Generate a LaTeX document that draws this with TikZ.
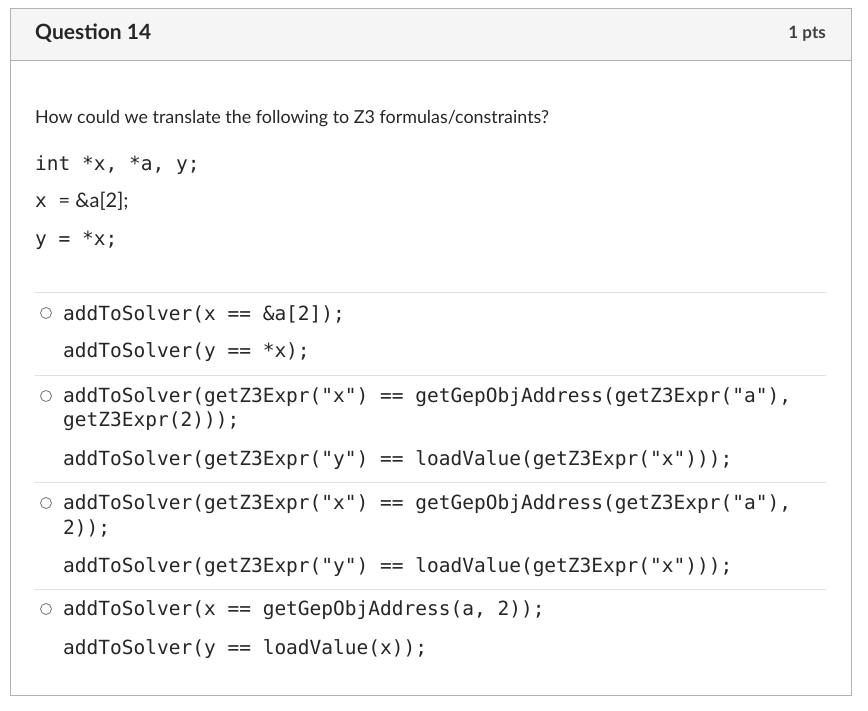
\documentclass[tikz,border=0pt]{standalone}
\usepackage{fontspec}
\setmainfont{Lato}
\newfontfamily\codef{DejaVu Sans Mono}
\begin{document}
\begin{tikzpicture}[x=1pt,y=-1pt,
  code/.style={anchor=west,inner sep=0pt,font=\codef\fontsize{19.5}{22}\selectfont,text=black!85},
  sep/.style={draw=black!12,line width=0.8pt},
  radio/.style={circle,draw=black!55,line width=0.8pt,minimum size=11pt,inner sep=0pt}]
\useasboundingbox (0,0) rectangle (868,711);
\fill[white] (0,0) rectangle (868,711);
\fill[black!4] (10,8) rectangle (851,60);
\draw[black!30,line width=0.8pt] (10,60) -- (851,60);
\draw[black!30,line width=0.8pt] (10,8) rectangle (851,695);
\node[anchor=west,inner sep=0pt,font=\bfseries\fontsize{21}{24}\selectfont,text=black!85] (title) at (35,33) {Question 14};
\node[anchor=east,inner sep=0pt,font=\bfseries\fontsize{17}{20}\selectfont,text=black!75] (pts) at (826,34) {1 pts};
\node[anchor=west,inner sep=0pt,font=\fontsize{17.9}{20}\selectfont,text=black!85] (q) at (35,119) {How could we translate the following to Z3 formulas/constraints?};
\node[code] (c1) at (35,165) {int *x, *a, y;};
\node[code] (c2) at (35,201) {x {\rmfamily\fontsize{20}{22}\selectfont = \&a[2];}};
\node[code] (c3) at (35,240) {y = *x;};
\draw[sep] (35,292) -- (826,292);
\draw[sep] (35,375) -- (826,375);
\draw[sep] (35,482) -- (826,482);
\draw[sep] (35,589) -- (826,589);
\node[radio] (r1) at (46,313) {};
\node[code] (a1) at (63,314) {addToSolver(x == \&a[2]);};
\node[code] (a2) at (63,352) {addToSolver(y == *x);};
\node[radio] (r2) at (46,396) {};
\node[code] (b1) at (63,397) {addToSolver(getZ3Expr("x") == getGepObjAddress(getZ3Expr("a"),};
\node[code] (b2) at (63,421) {getZ3Expr(2)));};
\node[code] (b3) at (63,460) {addToSolver(getZ3Expr("y") == loadValue(getZ3Expr("x")));};
\node[radio] (r3) at (46,503) {};
\node[code] (d1) at (63,504) {addToSolver(getZ3Expr("x") == getGepObjAddress(getZ3Expr("a"),};
\node[code] (d2) at (63,528) {2));};
\node[code] (d3) at (63,567) {addToSolver(getZ3Expr("y") == loadValue(getZ3Expr("x")));};
\node[radio] (r4) at (46,609) {};
\node[code] (e1) at (63,610) {addToSolver(x == getGepObjAddress(a, 2));};
\node[code] (e2) at (63,649) {addToSolver(y == loadValue(x));};
\end{tikzpicture}
\end{document}
